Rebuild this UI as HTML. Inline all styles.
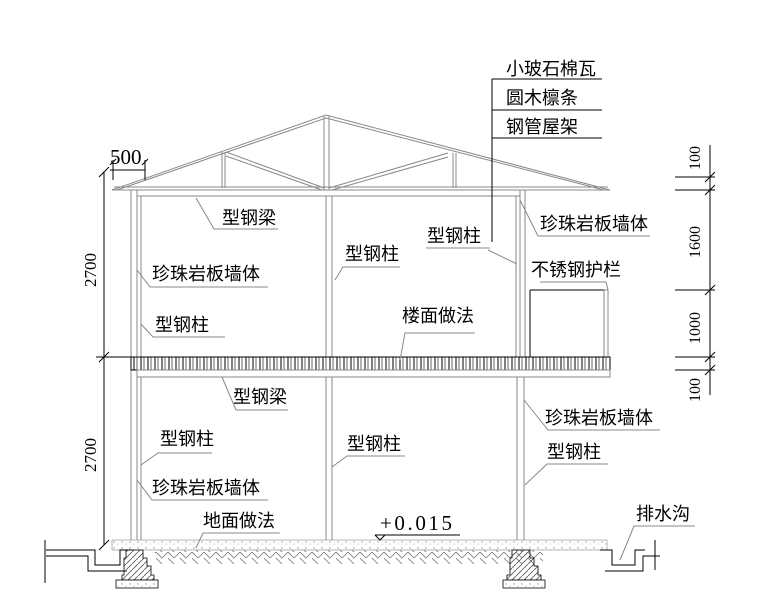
<!DOCTYPE html>
<html><head><meta charset="utf-8"><style>
html,body{margin:0;padding:0;background:#fff;}
text{font-family:"Liberation Sans","Noto Sans CJK SC",sans-serif;fill:#000;}
text.s, .s text{font-family:"Liberation Serif",serif;}
.l{stroke:#000;stroke-width:1;fill:none;}
.g{stroke:#888;stroke-width:1;fill:none;}
</style></head><body>
<svg width="760" height="608" viewBox="0 0 760 608" xmlns="http://www.w3.org/2000/svg">
<defs>
<pattern id="vh" width="7" height="14" patternUnits="userSpaceOnUse"><rect width="7" height="14" fill="#fff"/><line x1="1" y1="0" x2="1" y2="14" stroke="#000" stroke-width="1"/><line x1="4" y1="0" x2="4" y2="14" stroke="#666" stroke-width="1"/></pattern>
<pattern id="hz" width="12" height="12" patternUnits="userSpaceOnUse"><path d="M0,0 L6,6 M6,6 L12,0 M0,6 L6,12" stroke="#777" stroke-width="0.8" fill="none"/></pattern>
<pattern id="dg" width="6" height="6" patternUnits="userSpaceOnUse"><path d="M0,6 L6,0" stroke="#555" stroke-width="0.8"/></pattern>
<pattern id="dt" width="8" height="6" patternUnits="userSpaceOnUse"><rect width="8" height="6" fill="#fff"/><circle cx="2" cy="2" r="0.6" fill="#666"/><circle cx="6" cy="4" r="0.5" fill="#888"/></pattern>
</defs>
<g class="g">
<path d="M112,190 L326,115 L610,190"/>
<path d="M117,190 L326,118 L604,190"/>
<line x1="112" y1="190" x2="610" y2="190"/>
<line x1="114" y1="187" x2="608" y2="187"/>
<line x1="324" y1="116" x2="324" y2="190"/><line x1="329" y1="116" x2="329" y2="190"/>
<line x1="222" y1="152" x2="222" y2="188"/><line x1="225" y1="152" x2="225" y2="188"/>
<line x1="453" y1="153" x2="453" y2="188"/><line x1="456" y1="153" x2="456" y2="188"/>
<path d="M226,152 L324,188 M226,156 L322,190"/>
<path d="M329,188 L448,153 M332,190 L448,157"/>
</g>
<g class="g">
<line x1="137" y1="196" x2="520" y2="196"/>
<rect x="131" y="190" width="6" height="355"/>
<rect x="137" y="196" width="4" height="161"/>
<rect x="326" y="196" width="6" height="349"/>
<rect x="516" y="196" width="4" height="161"/>
<rect x="520" y="190" width="5" height="167"/>
<rect x="517" y="377" width="7" height="168"/>
<line x1="137" y1="377" x2="520" y2="377"/>
<line x1="141" y1="377" x2="141" y2="545"/>
</g>
<path class="l" d="M530,290 L604,290 M530,290 L530,357"/>
<rect x="604" y="290" width="4" height="67" class="g"/>
<rect x="131" y="357" width="479" height="13" fill="url(#vh)" stroke="#000"/>
<rect x="137" y="370" width="473" height="7" fill="#fff" stroke="#888"/>
<rect x="112" y="540" width="495" height="10" fill="url(#dt)" stroke="#888" stroke-width="0.6"/>
<rect x="155" y="550" width="388" height="14" fill="url(#hz)"/>
<path class="l" d="M46,550 L95,550 L95,565 L120,565 L120,550 L132,550"/>
<path class="l" d="M600,550 L612,550 L612,565 L635,565 L635,550 L645,550"/>
<path class="l" d="M46,556 L88,556 L88,571 L127,571"/>
<path class="l" d="M605,571 L643,571 L643,556 L660,556"/>
<line class="l" x1="45" y1="540" x2="45" y2="583"/>
<line class="l" x1="655" y1="540" x2="655" y2="570"/>
<path d="M126,550 L143,550 L143,558 L147,558 L147,566 L151,566 L151,575 L154,575 L154,580 L122,580 L122,575 L124,575 L124,558 L126,558Z" fill="url(#dg)" stroke="#000" stroke-width="0.8"/>
<rect x="116" y="580" width="42" height="8" fill="url(#dt)" stroke="#000" stroke-width="0.8"/>
<path d="M512,550 L530,550 L530,558 L534,558 L534,566 L538,566 L538,575 L541,575 L541,580 L507,580 L507,575 L510,575 L510,558 L512,558Z" fill="url(#dg)" stroke="#000" stroke-width="0.8"/>
<rect x="503" y="580" width="42" height="8" fill="url(#dt)" stroke="#000" stroke-width="0.8"/>
<text class="s" x="380" y="530" font-size="21" textLength="72">+0.015</text>
<path class="l" d="M375,535 L460,535 M375,535 L380,540 L385,535"/>
<g class="l">
<line x1="104" y1="172" x2="104" y2="545"/>
<line x1="99" y1="177" x2="109" y2="167"/>
<line x1="99" y1="362" x2="109" y2="352"/>
<line x1="99" y1="550" x2="109" y2="540"/>
<line x1="96" y1="357" x2="131" y2="357"/>
<line x1="110" y1="170" x2="145" y2="170"/>
<line x1="113" y1="160" x2="113" y2="180"/><line x1="145" y1="160" x2="145" y2="180"/>
<line x1="110" y1="165" x2="116" y2="159"/><line x1="142" y1="165" x2="148" y2="159"/>
</g>
<text class="s" x="110" y="164" font-size="21">500</text>
<g class="s" font-size="17">
<text transform="translate(96,287) rotate(-90)">2700</text>
<text transform="translate(96,472) rotate(-90)">2700</text>
<text transform="translate(700,170) rotate(-90)" font-size="16">100</text>
<text transform="translate(700,258) rotate(-90)" font-size="16">1600</text>
<text transform="translate(700,344) rotate(-90)" font-size="16">1000</text>
<text transform="translate(700,402) rotate(-90)" font-size="16">100</text>
</g>
<g class="l">
<line x1="710" y1="145" x2="710" y2="395"/>
<line x1="675" y1="177" x2="715" y2="177"/><line x1="705" y1="182" x2="715" y2="172"/>
<line x1="675" y1="190" x2="715" y2="190"/><line x1="705" y1="195" x2="715" y2="185"/>
<line x1="675" y1="290" x2="715" y2="290"/><line x1="705" y1="295" x2="715" y2="285"/>
<line x1="675" y1="357" x2="715" y2="357"/><line x1="705" y1="362" x2="715" y2="352"/>
<line x1="675" y1="370" x2="715" y2="370"/><line x1="705" y1="375" x2="715" y2="365"/>
</g>
<g class="l">
<line x1="492" y1="79" x2="492" y2="242"/>
<line x1="492" y1="79" x2="602" y2="79"/>
<line x1="492" y1="110" x2="602" y2="110"/>
<line x1="492" y1="138" x2="602" y2="138"/>
</g>
<g font-size="18">
<text x="506" y="75">小玻石棉瓦</text>
<text x="506" y="104">圆木檩条</text>
<text x="506" y="133">钢管屋架</text>
<text x="222" y="224">型钢梁</text>
<text x="427" y="242">型钢柱</text>
<text x="540" y="230">珍珠岩板墙体</text>
<text x="345" y="260">型钢柱</text>
<text x="152" y="280">珍珠岩板墙体</text>
<text x="531" y="276">不锈钢护栏</text>
<text x="155" y="331">型钢柱</text>
<text x="402" y="322">楼面做法</text>
<text x="233" y="403">型钢梁</text>
<text x="545" y="424">珍珠岩板墙体</text>
<text x="160" y="445">型钢柱</text>
<text x="347" y="450">型钢柱</text>
<text x="547" y="458">型钢柱</text>
<text x="152" y="494">珍珠岩板墙体</text>
<text x="203" y="527">地面做法</text>
<text x="636" y="520">排水沟</text>
</g>
<g class="g">
<path d="M278,229 L214,229 L196,198"/>
<path d="M490,248 L426,248"/>
<path d="M520,200 L538,236 L650,236"/>
<path d="M400,267 L343,267 L335,280"/>
<path d="M268,287 L150,287 L137,270"/>
<path d="M488,250 L517,264"/>
<path d="M606,282 L540,282 M606,282 L608,290"/>
<path d="M225,337 L153,337 L141,324"/>
<path d="M475,333 L405,333 L400,360"/>
<path d="M288,410 L236,410 L222,377"/>
<path d="M660,430 L548,430 L524,400"/>
<path d="M212,453 L158,453 L141,465"/>
<path d="M405,456 L347,456 L332,467"/>
<path d="M608,464 L547,464 L525,485"/>
<path d="M268,500 L152,500 L137,480"/>
<path d="M280,533 L203,533 L196,548"/>
<path d="M695,526 L634,526 L620,560"/>
</g>
</svg>
</body></html>
